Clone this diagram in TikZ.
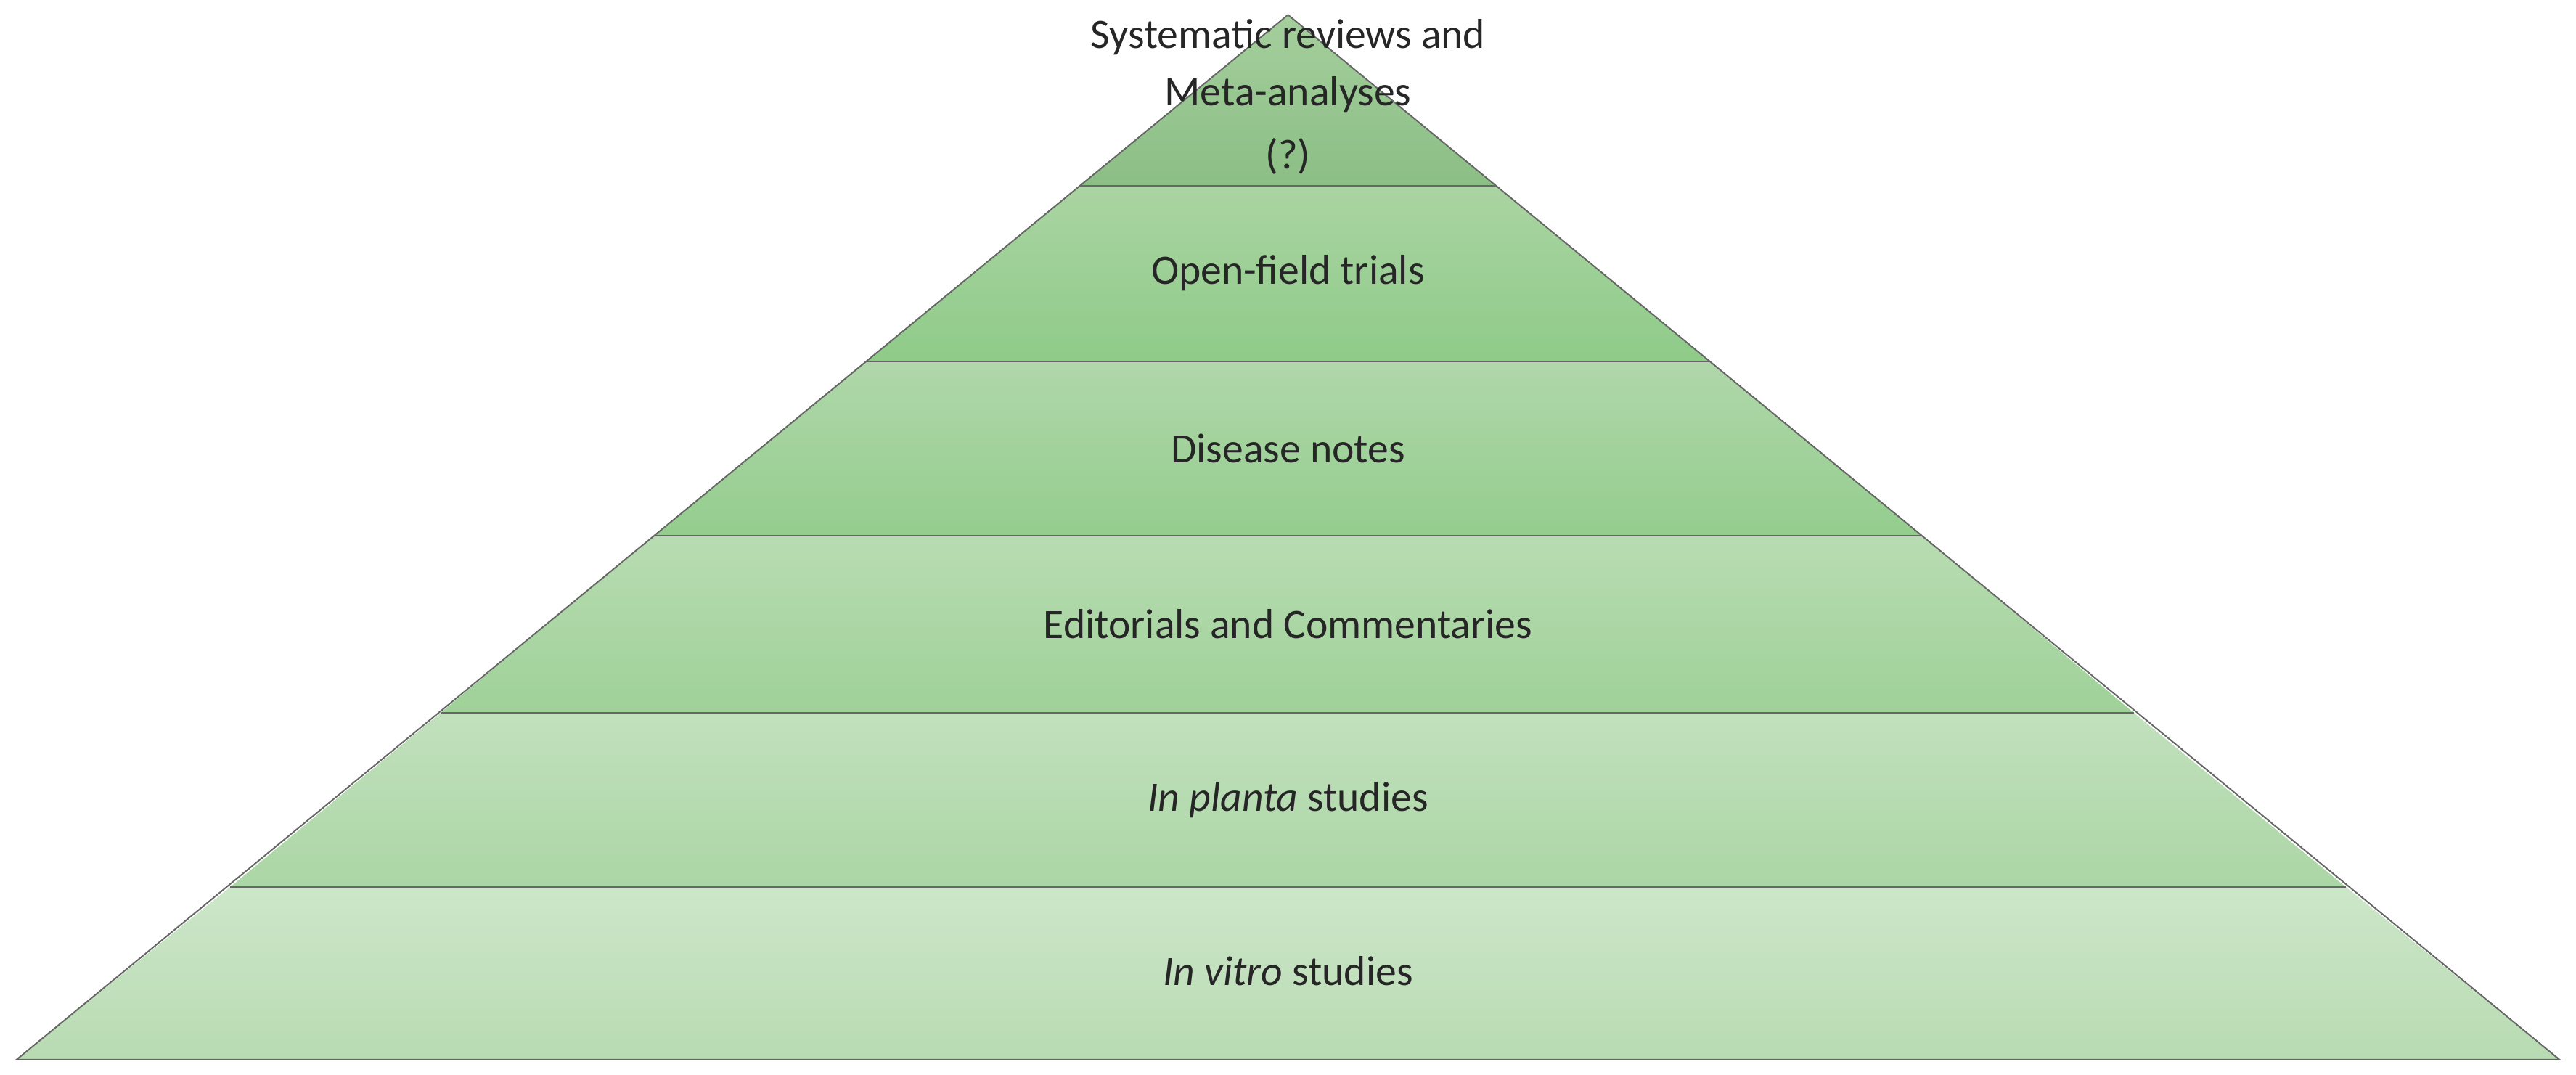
\documentclass[tikz,border=0pt]{standalone}
\usepackage{fontspec}
\setmainfont{Carlito}
\definecolor{a1}{RGB}{165,207,157}\definecolor{b1}{RGB}{139,190,133}
\definecolor{a2}{RGB}{170,212,162}\definecolor{b2}{RGB}{143,203,137}
\definecolor{a3}{RGB}{176,215,170}\definecolor{b3}{RGB}{148,205,142}
\definecolor{a4}{RGB}{184,220,178}\definecolor{b4}{RGB}{159,209,152}
\definecolor{a5}{RGB}{194,224,189}\definecolor{b5}{RGB}{171,214,165}
\definecolor{a6}{RGB}{205,230,201}\definecolor{b6}{RGB}{184,219,178}
\begin{document}
\begin{tikzpicture}[x=0.02cm,y=-0.02cm,
  lbl/.style={font=\fontsize{14.5}{20}\selectfont,text=black!85,align=center},
  edge/.style={draw=black!60,line width=0.5pt}]
\useasboundingbox (0,0) rectangle (1568,654);
\shade[top color=a1, bottom color=b1] (784,9) -- (657,113) -- (911,113) -- cycle;
\shade[top color=a2, bottom color=b2] (657,113) -- (527,220) -- (1041,220) -- (911,113) -- cycle;
\shade[top color=a3, bottom color=b3] (527,220) -- (398,326) -- (1170,326) -- (1041,220) -- cycle;
\shade[top color=a4, bottom color=b4] (398,326) -- (268,434) -- (1299,434) -- (1170,326) -- cycle;
\shade[top color=a5, bottom color=b5] (268,434) -- (140,540) -- (1428,540) -- (1299,434) -- cycle;
\shade[top color=a6, bottom color=b6] (140,540) -- (10,645) -- (1558,645) -- (1428,540) -- cycle;
\draw[edge] (784,9) -- (10,645) -- (1558,645) -- cycle;
\foreach \y/\l/\r in {113/657/911,220/527/1041,326/398/1170,434/268/1299,540/140/1428}
  \draw[edge] (\l,\y) -- (\r,\y);
\node[lbl] (t1) at (784,40) {Systematic reviews and\\Meta-analyses};
\node[lbl] (t1b) at (784,95) {(?)};
\node[lbl] (t2) at (784,166) {Open-field trials};
\node[lbl] (t3) at (784,273) {Disease notes};
\node[lbl] (t4) at (784,380) {Editorials and Commentaries};
\node[lbl] (t5) at (784,487) {\textit{In planta} studies};
\node[lbl] (t6) at (784,591) {\textit{In vitro} studies};
\end{tikzpicture}
\end{document}
